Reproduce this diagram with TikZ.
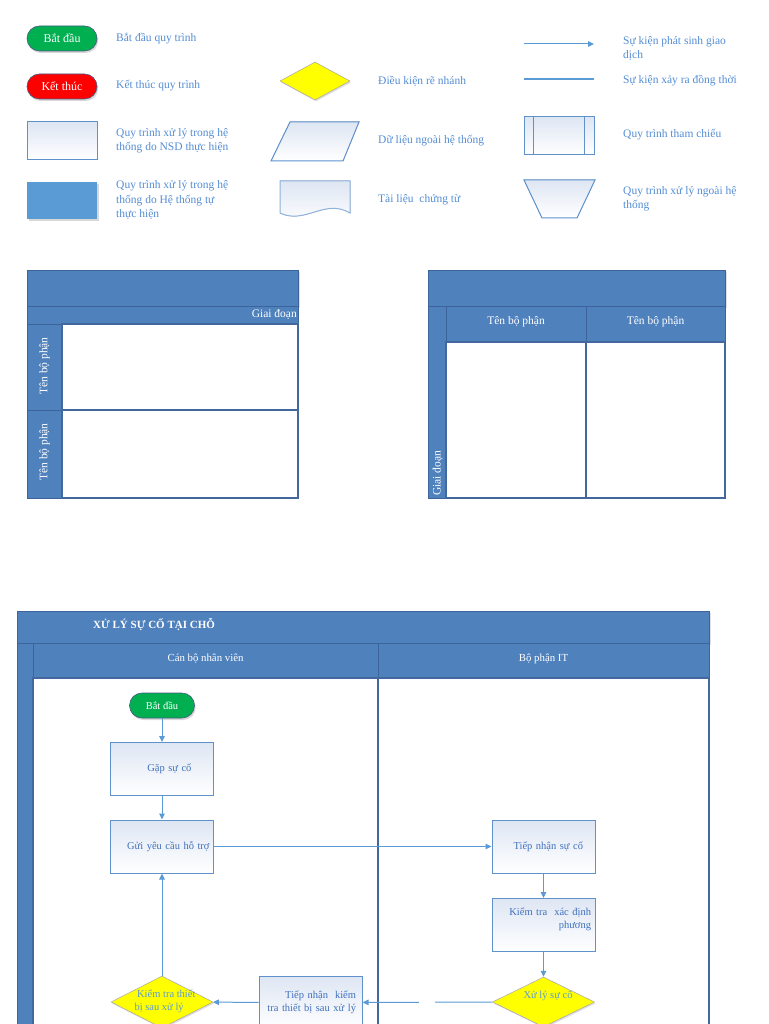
\documentclass[tikz,border=0pt]{standalone}
\usepackage{fontspec}
\setmainfont{Liberation Serif}
\usetikzlibrary{shapes.geometric,arrows.meta,shadows}
\definecolor{hdr}{RGB}{79,129,189}
\definecolor{hdrline}{RGB}{60,100,155}
\definecolor{lanec}{RGB}{66,104,158}
\definecolor{arrowc}{RGB}{91,155,213}
\definecolor{lgtxt}{RGB}{84,141,212}
\definecolor{ntxt}{RGB}{62,112,190}
\definecolor{boxline}{RGB}{95,145,205}
\definecolor{boxtop}{RGB}{222,230,243}
\definecolor{sysblue}{RGB}{91,155,213}
\definecolor{startg}{RGB}{0,176,80}
\definecolor{yel}{RGB}{255,255,0}
\definecolor{pillline}{RGB}{70,90,130}
\begin{document}
\begin{tikzpicture}[x=1pt,y=-1pt,font=\fontsize{10.5}{13}\selectfont,
  lg/.style={anchor=west,align=left,text=lgtxt,inner sep=0,font=\fontsize{11.5}{14.5}\selectfont},
  pill/.style={rectangle,rounded corners=12.5,minimum width=#1,minimum height=25,inner sep=0,
    draw=pillline,line width=0.6,text=white,
    drop shadow={shadow xshift=1.2pt,shadow yshift=-2pt,opacity=0.3}},
  pill/.default=70,
  pbox/.style={rectangle,draw=boxline,line width=1,top color=boxtop,bottom color=white,
    minimum width=103,minimum height=53,inner ysep=0,text=ntxt},
  rtext/.style={inner xsep=#1,text width=103-2*#1,align=right},
  dia/.style={diamond,fill=yel,draw=gray!70,line width=0.5,inner sep=0,
    drop shadow={shadow xshift=1pt,shadow yshift=-1.5pt,opacity=0.25}},
  dtext/.style={text=sysblue,inner sep=0,align=left},
  hband/.style={fill=hdr,draw=hdrline,line width=0.6},
  lanebox/.style={fill=white,draw=lanec,line width=1.2},
  htxt/.style={text=white,inner sep=0},
  tpl/.style={htxt,font=\fontsize{11.5}{13}\selectfont},
  arr/.style={draw=arrowc,line width=1,-{Triangle[length=6pt,width=5.5pt]}},
  gapnode/.style={fill=white,inner sep=0,minimum width=16,minimum height=4}
]
\clip (0,0) rectangle (768,1024);
\fill[white] (0,0) rectangle (768,1024);

% ---------------- Legend ----------------
\node[pill,fill=startg,font=\fontsize{12}{13}\selectfont] (lgstart) at (62,38.5) {Bắt đầu};
\node[lg] (lgt1) at (116,39) {Bắt đầu quy trình};
\node[pill,fill=red,font=\fontsize{12}{13}\selectfont] (lgend) at (62,86.5) {Kết thúc};
\node[lg] (lgt2) at (116,86) {Kết thúc quy trình};
\node[rectangle,draw=boxline,line width=1,top color=boxtop,bottom color=white,
  minimum width=70,minimum height=38,inner sep=0] (lgnsd) at (62,141) {};
\node[lg] (lgt3) at (116,140.5) {Quy trình xử lý trong hệ\\thống do NSD thực hiện};
\node[rectangle,fill=sysblue,minimum width=70,minimum height=37,inner sep=0,
  drop shadow={shadow xshift=1.5pt,shadow yshift=-1.5pt,opacity=0.3}] (lgsys) at (62,201) {};
\node[lg] (lgt4) at (116,200) {Quy trình xử lý trong hệ\\thống do Hệ thống tự\\thực hiện};

\node[dia,minimum width=70,minimum height=38] (lgdia) at (315,81) {};
\node[lg] (lgt5) at (378,81) {Điều kiện rẽ nhánh};
\filldraw[draw=boxline,line width=1,top color=boxtop,bottom color=white]
  (290,122) -- (359,122) -- (343,161) -- (271,161) -- cycle;
\node[lg] (lgt6) at (378,141) {Dữ liệu ngoài hệ thống};
\filldraw[draw=boxline!70!white,line width=1,top color=boxtop,bottom color=white]
  (280,181) -- (350,181) -- (350,213) .. controls (325,198) and (305,225) .. (280,213) -- cycle;
\node[lg] (lgt7) at (378,200) {Tài liệu\ \ chứng từ};

\coordinate (lga1) at (524,44);
\coordinate (lga2) at (594,44);
\draw[arr,line width=1] (lga1) -- (lga2);
\node[lg] (lgt8) at (623,48.5) {Sự kiện phát sinh giao\\dịch};
\coordinate (lgb1) at (524,79);
\coordinate (lgb2) at (594,79);
\draw[draw=arrowc,line width=2.6] (lgb1) -- (lgb2);
\node[lg] (lgt9) at (623,81) {Sự kiện xảy ra đồng thời};
\node[rectangle,draw=boxline,line width=1,top color=boxtop,bottom color=white,
  minimum width=70,minimum height=38,inner sep=0] (lgref) at (559,136) {};
\draw[boxline,line width=1] (533.5,117) -- (533.5,155) (584.5,117) -- (584.5,155);
\node[lg] (lgt10) at (623,135) {Quy trình tham chiếu};
\filldraw[draw=boxline,line width=1,top color=boxtop,bottom color=white]
  (524,180) -- (595,180) -- (577,218) -- (542,218) -- cycle;
\node[lg] (lgt11) at (623,198.5) {Quy trình xử lý ngoài hệ\\thống};

% ---------------- Template 1 ----------------
\filldraw[hband,drop shadow={shadow xshift=1.5pt,shadow yshift=-1.5pt,opacity=0.25}] (27,270) rectangle (298,306);
\filldraw[hband] (27,306) rectangle (298,324);
\filldraw[hband] (27,324) rectangle (62,410);
\filldraw[hband] (27,410) rectangle (62,498);
\filldraw[lanebox] (62,324) rectangle (298,410);
\filldraw[lanebox] (62,410) rectangle (298,498);
\node[tpl,anchor=east] (t1gd) at (297,314) {Giai đoạn};
\node[tpl,rotate=90] (t1b1) at (44.5,366) {Tên bộ phận};
\node[tpl,rotate=90] (t1b2) at (44.5,452) {Tên bộ phận};

% ---------------- Template 2 ----------------
\filldraw[hband,drop shadow={shadow xshift=1.5pt,shadow yshift=-1.5pt,opacity=0.25}] (428,270) rectangle (725,306);
\filldraw[hband] (428,306) rectangle (446,498);
\filldraw[hband] (446,306) rectangle (586,342);
\filldraw[hband] (586,306) rectangle (725,342);
\filldraw[lanebox] (446,342) rectangle (586,498);
\filldraw[lanebox] (586,342) rectangle (725,498);
\node[tpl] (t2b1) at (516,322) {Tên bộ phận};
\node[tpl] (t2b2) at (655.5,322) {Tên bộ phận};
\node[tpl,rotate=90,anchor=west] (t2gd) at (437.5,496) {Giai đoạn};

% ---------------- Main swimlane ----------------
\filldraw[hband,drop shadow={shadow xshift=1.5pt,shadow yshift=-1.5pt,opacity=0.25}] (17,611) rectangle (709,643);
\filldraw[hband] (17,643) rectangle (33,1040);
\filldraw[hband] (33,643) rectangle (378,678);
\filldraw[hband] (378,643) rectangle (709,678);
\filldraw[lanebox] (33,678) rectangle (378,1040);
\filldraw[lanebox] (378,678) rectangle (709,1040);
\node[htxt,anchor=west,font=\bfseries\fontsize{11}{12}\selectfont] (title) at (93,625) {XỬ LÝ SỰ CỐ TẠI CHỖ};
\node[htxt,font=\fontsize{10.8}{12}\selectfont] (lane1) at (205.5,659) {Cán bộ nhân viên};
\node[htxt,font=\fontsize{10.8}{12}\selectfont] (lane2) at (543.5,659) {Bộ phận IT};

\node[pill=65,fill=startg,font=\fontsize{10.5}{12}\selectfont] (start) at (162,705.5) {Bắt đầu};
\node[pbox,rtext=22] (gap) at (162,769) {Gặp sự cố};
\node[pbox,rtext=4] (gui) at (162,846.5) {Gửi yêu cầu hỗ trợ};
\node[pbox,rtext=12] (tn) at (543.5,846.5) {Tiếp nhận sự cố};
\node[pbox,rtext=4] (kt) at (543.5,925) {Kiểm tra\ \ xác định\\phương\\\mbox{}};
\node[dia,minimum width=102,minimum height=50] (xl) at (543.5,1002) {};
\node[dtext] (xlt) at (548,1001) {Xử lý sự cố\\\mbox{}};
\node[pbox,rtext=6] (tnk) at (310.5,1002.5) {Tiếp nhận\ \ kiểm\\tra thiết bị sau xử lý};
\node[dia,minimum width=102,minimum height=52] (ktd) at (162,1002) {};
\node[dtext] (ktdt) at (165,1001.5) {\ Kiểm tra thiết\\bị sau xử lý};

\draw[arr] (start) -- (gap);
\draw[arr] (gap) -- (gui);
\draw[arr] (gui) -- (tn);
\draw[arr] (tn) -- (kt);
\draw[arr] (kt) -- (xl);
\draw[arr] (xl) -- node[gapnode] (gapmark) {} (tnk);
\draw[arr] (tnk) -- (ktd);
\draw[arr] (ktd) -- (gui);
\end{tikzpicture}
\end{document}
